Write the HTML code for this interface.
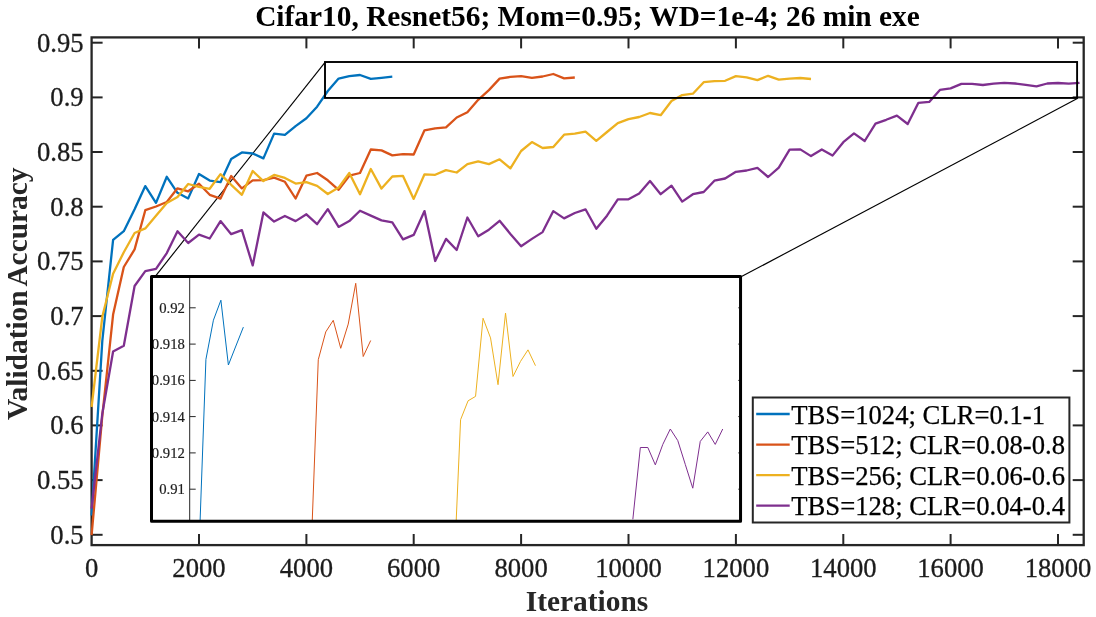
<!DOCTYPE html>
<html><head><meta charset="utf-8"><title>Cifar10 Resnet56 validation accuracy</title>
<style>
html,body{margin:0;padding:0;background:#fff;}
body{width:1096px;height:617px;overflow:hidden;position:relative;}
svg text{font-family:"Liberation Serif",serif;}
</style></head><body>
<svg width="1096" height="617" viewBox="0 0 1096 617" style="position:absolute;left:0;top:0">
<rect x="0" y="0" width="1096" height="617" fill="#fff"/>
<rect x="91.6" y="37.4" width="992.1" height="507.7" fill="none" stroke="#262626" stroke-width="2.3"/>
<g stroke="#262626" stroke-width="2">
<line x1="199.0" y1="545.0" x2="199.0" y2="534.0"/>
<line x1="199.0" y1="37.4" x2="199.0" y2="48.4"/>
<line x1="306.4" y1="545.0" x2="306.4" y2="534.0"/>
<line x1="306.4" y1="37.4" x2="306.4" y2="48.4"/>
<line x1="413.7" y1="545.0" x2="413.7" y2="534.0"/>
<line x1="413.7" y1="37.4" x2="413.7" y2="48.4"/>
<line x1="521.1" y1="545.0" x2="521.1" y2="534.0"/>
<line x1="521.1" y1="37.4" x2="521.1" y2="48.4"/>
<line x1="628.5" y1="545.0" x2="628.5" y2="534.0"/>
<line x1="628.5" y1="37.4" x2="628.5" y2="48.4"/>
<line x1="735.9" y1="545.0" x2="735.9" y2="534.0"/>
<line x1="735.9" y1="37.4" x2="735.9" y2="48.4"/>
<line x1="843.3" y1="545.0" x2="843.3" y2="534.0"/>
<line x1="843.3" y1="37.4" x2="843.3" y2="48.4"/>
<line x1="950.6" y1="545.0" x2="950.6" y2="534.0"/>
<line x1="950.6" y1="37.4" x2="950.6" y2="48.4"/>
<line x1="1058.0" y1="545.0" x2="1058.0" y2="534.0"/>
<line x1="1058.0" y1="37.4" x2="1058.0" y2="48.4"/>
<line x1="91.6" y1="534.8" x2="102.6" y2="534.8"/>
<line x1="1083.7" y1="534.8" x2="1072.7" y2="534.8"/>
<line x1="91.6" y1="480.1" x2="102.6" y2="480.1"/>
<line x1="1083.7" y1="480.1" x2="1072.7" y2="480.1"/>
<line x1="91.6" y1="425.4" x2="102.6" y2="425.4"/>
<line x1="1083.7" y1="425.4" x2="1072.7" y2="425.4"/>
<line x1="91.6" y1="370.8" x2="102.6" y2="370.8"/>
<line x1="1083.7" y1="370.8" x2="1072.7" y2="370.8"/>
<line x1="91.6" y1="316.1" x2="102.6" y2="316.1"/>
<line x1="1083.7" y1="316.1" x2="1072.7" y2="316.1"/>
<line x1="91.6" y1="261.4" x2="102.6" y2="261.4"/>
<line x1="1083.7" y1="261.4" x2="1072.7" y2="261.4"/>
<line x1="91.6" y1="206.7" x2="102.6" y2="206.7"/>
<line x1="1083.7" y1="206.7" x2="1072.7" y2="206.7"/>
<line x1="91.6" y1="152.0" x2="102.6" y2="152.0"/>
<line x1="1083.7" y1="152.0" x2="1072.7" y2="152.0"/>
<line x1="91.6" y1="97.4" x2="102.6" y2="97.4"/>
<line x1="1083.7" y1="97.4" x2="1072.7" y2="97.4"/>
<line x1="91.6" y1="42.7" x2="102.6" y2="42.7"/>
<line x1="1083.7" y1="42.7" x2="1072.7" y2="42.7"/>
</g>
<g stroke="#000" stroke-width="1.15" fill="none">
<line x1="325" y1="62.4" x2="154.3" y2="277.6"/>
<line x1="1077.3" y1="98.6" x2="741.5" y2="276.6"/>
</g>
<polyline points="91.6,515.5 102.3,341.0 113.1,239.9 123.8,231.2 134.6,209.3 145.3,186.1 156.0,202.9 166.8,176.8 177.5,192.8 188.2,198.4 199.0,174.0 209.7,180.6 220.5,182.2 231.2,158.9 241.9,152.4 252.7,153.5 263.4,158.4 274.1,133.6 284.9,134.9 295.6,126.1 306.4,118.3 317.1,106.7 327.8,91.0 338.6,78.6 349.3,76.2 360.0,75.0 370.8,78.9 381.5,77.8 392.3,76.7" fill="none" stroke="#0072BD" stroke-width="2.3" stroke-linejoin="round"/>
<polyline points="91.6,535.1 102.3,416.0 113.1,314.6 123.8,267.0 134.6,249.4 145.3,210.2 156.0,206.5 166.8,202.0 177.5,188.3 188.2,191.3 199.0,183.8 209.7,194.8 220.5,198.6 231.2,176.0 241.9,188.4 252.7,180.4 263.4,180.2 274.1,177.6 284.9,181.8 295.6,198.5 306.4,175.7 317.1,173.0 327.8,180.3 338.6,189.8 349.3,175.7 360.0,173.0 370.8,149.5 381.5,150.4 392.3,155.4 403.0,154.1 413.7,154.5 424.5,130.3 435.2,128.4 446.0,127.4 456.7,117.5 467.4,112.2 478.2,99.8 488.9,90.1 499.6,78.6 510.4,76.9 521.1,76.2 531.9,77.9 542.6,76.5 553.3,74.0 564.1,78.4 574.8,77.5" fill="none" stroke="#D95319" stroke-width="2.3" stroke-linejoin="round"/>
<polyline points="91.6,407.0 102.3,316.8 113.1,273.7 123.8,252.2 134.6,233.0 145.3,228.4 156.0,215.7 166.8,202.9 177.5,197.0 188.2,184.0 199.0,186.8 209.7,188.8 220.5,174.1 231.2,184.8 241.9,194.8 252.7,171.0 263.4,181.1 274.1,174.9 284.9,177.9 295.6,183.6 306.4,182.1 317.1,185.8 327.8,194.0 338.6,187.6 349.3,173.0 360.0,194.3 370.8,169.0 381.5,188.6 392.3,176.5 403.0,175.9 413.7,198.9 424.5,174.3 435.2,174.8 446.0,170.1 456.7,172.5 467.4,164.2 478.2,161.3 488.9,164.1 499.6,159.3 510.4,168.4 521.1,151.0 531.9,142.1 542.6,148.0 553.3,147.0 564.1,134.7 574.8,133.7 585.5,131.6 596.3,140.8 607.0,132.0 617.8,123.1 628.5,119.2 639.2,117.0 650.0,113.0 660.7,115.2 671.5,101.0 682.2,95.1 692.9,93.7 703.7,82.2 714.4,81.1 725.1,80.8 735.9,76.1 746.6,77.3 757.4,80.1 768.1,75.8 778.8,79.6 789.6,78.7 800.3,78.0 811.0,79.0" fill="none" stroke="#EDB120" stroke-width="2.3" stroke-linejoin="round"/>
<polyline points="91.6,508.7 102.3,413.7 113.1,351.5 123.8,345.8 134.6,286.0 145.3,271.2 156.0,268.9 166.8,253.1 177.5,231.2 188.2,243.0 199.0,234.7 209.7,238.5 220.5,221.1 231.2,234.2 241.9,230.2 252.7,265.4 263.4,212.5 274.1,221.6 284.9,216.0 295.6,221.1 306.4,214.3 317.1,224.2 327.8,209.2 338.6,226.9 349.3,221.1 360.0,210.7 370.8,215.6 381.5,220.4 392.3,222.4 403.0,239.4 413.7,234.9 424.5,211.1 435.2,261.0 446.0,238.9 456.7,250.0 467.4,217.5 478.2,236.3 488.9,229.7 499.6,220.8 510.4,233.9 521.1,246.2 531.9,238.9 542.6,232.1 553.3,211.1 564.1,218.4 574.8,213.0 585.5,209.3 596.3,228.8 607.0,215.7 617.8,199.3 628.5,199.3 639.2,193.4 650.0,181.0 660.7,194.2 671.5,185.6 682.2,201.6 692.9,194.2 703.7,192.0 714.4,180.7 725.1,178.5 735.9,171.8 746.6,170.5 757.4,167.9 768.1,177.0 778.8,167.7 789.6,149.6 800.3,149.4 811.0,156.1 821.8,149.4 832.5,155.6 843.3,142.2 854.0,133.4 864.7,141.0 875.5,123.7 886.2,119.8 896.9,115.6 907.7,124.0 918.4,102.8 929.2,101.9 939.9,89.9 950.6,88.4 961.4,83.9 972.1,83.9 982.9,85.0 993.6,83.7 1004.3,82.8 1015.1,83.5 1025.8,84.9 1036.5,86.4 1047.3,83.5 1058.0,83.0 1068.8,83.7 1079.5,82.8" fill="none" stroke="#7E2F8E" stroke-width="2.3" stroke-linejoin="round"/>
<rect x="325.0" y="62.0" width="752.1" height="35.95" fill="none" stroke="#000" stroke-width="1.9"/>
<rect x="151.5" y="276.5" width="589.05" height="244.8" fill="#fff"/>
<clipPath id="ic"><rect x="153" y="278" width="586.2" height="242"/></clipPath>
<g clip-path="url(#ic)">
<line x1="189.7" y1="276" x2="189.7" y2="522" stroke="#262626" stroke-width="1"/>
<line x1="189.7" y1="307.8" x2="195.7" y2="307.8" stroke="#262626" stroke-width="1"/>
<line x1="738.3" y1="307.8" x2="739.5" y2="307.8" stroke="#262626" stroke-width="1"/>
<text x="184.8" y="312.8" text-anchor="end" font-size="14.67" fill="#1c1c1c" stroke="#1c1c1c" stroke-width="0.2">0.92</text>
<line x1="189.7" y1="344.1" x2="195.7" y2="344.1" stroke="#262626" stroke-width="1"/>
<line x1="738.3" y1="344.1" x2="739.5" y2="344.1" stroke="#262626" stroke-width="1"/>
<text x="184.8" y="349.1" text-anchor="end" font-size="14.67" fill="#1c1c1c" stroke="#1c1c1c" stroke-width="0.2">0.918</text>
<line x1="189.7" y1="380.4" x2="195.7" y2="380.4" stroke="#262626" stroke-width="1"/>
<line x1="738.3" y1="380.4" x2="739.5" y2="380.4" stroke="#262626" stroke-width="1"/>
<text x="184.8" y="385.4" text-anchor="end" font-size="14.67" fill="#1c1c1c" stroke="#1c1c1c" stroke-width="0.2">0.916</text>
<line x1="189.7" y1="416.6" x2="195.7" y2="416.6" stroke="#262626" stroke-width="1"/>
<line x1="738.3" y1="416.6" x2="739.5" y2="416.6" stroke="#262626" stroke-width="1"/>
<text x="184.8" y="421.6" text-anchor="end" font-size="14.67" fill="#1c1c1c" stroke="#1c1c1c" stroke-width="0.2">0.914</text>
<line x1="189.7" y1="452.9" x2="195.7" y2="452.9" stroke="#262626" stroke-width="1"/>
<line x1="738.3" y1="452.9" x2="739.5" y2="452.9" stroke="#262626" stroke-width="1"/>
<text x="184.8" y="457.9" text-anchor="end" font-size="14.67" fill="#1c1c1c" stroke="#1c1c1c" stroke-width="0.2">0.912</text>
<line x1="189.7" y1="489.2" x2="195.7" y2="489.2" stroke="#262626" stroke-width="1"/>
<line x1="738.3" y1="489.2" x2="739.5" y2="489.2" stroke="#262626" stroke-width="1"/>
<text x="184.8" y="494.2" text-anchor="end" font-size="14.67" fill="#1c1c1c" stroke="#1c1c1c" stroke-width="0.2">0.91</text>
<polyline points="198.43,567.00 205.92,359.40 213.41,320.20 220.90,300.20 228.39,365.00 235.88,346.00 243.37,327.10" fill="none" stroke="#0072BD" stroke-width="1.0" stroke-linejoin="miter"/>
<polyline points="310.78,560.00 318.27,359.70 325.76,331.90 333.25,320.30 340.74,348.30 348.23,324.10 355.72,283.30 363.21,356.50 370.70,340.50" fill="none" stroke="#D95319" stroke-width="1.0" stroke-linejoin="miter"/>
<polyline points="453.09,592.00 460.58,419.70 468.07,400.80 475.56,396.40 483.05,318.25 490.54,337.90 498.03,384.70 505.52,313.05 513.01,376.50 520.50,361.40 527.99,349.85 535.48,365.70" fill="none" stroke="#EDB120" stroke-width="1.0" stroke-linejoin="miter"/>
<polyline points="632.85,519.30 640.34,447.50 647.83,447.50 655.32,464.85 662.81,444.40 670.30,429.00 677.79,440.60 685.28,464.40 692.77,488.20 700.26,441.40 707.75,431.90 715.24,444.40 722.73,429.00" fill="none" stroke="#7E2F8E" stroke-width="1.0" stroke-linejoin="miter"/>
</g>
<rect x="151.5" y="276.5" width="589.05" height="244.8" fill="none" stroke="#000" stroke-width="3" stroke-linejoin="round"/>
<g font-size="26.67" fill="#1c1c1c" stroke="#1c1c1c" stroke-width="0.3">
<text x="91.6" y="576.6" text-anchor="middle">0</text>
<text x="199.0" y="576.6" text-anchor="middle">2000</text>
<text x="306.4" y="576.6" text-anchor="middle">4000</text>
<text x="413.7" y="576.6" text-anchor="middle">6000</text>
<text x="521.1" y="576.6" text-anchor="middle">8000</text>
<text x="628.5" y="576.6" text-anchor="middle">10000</text>
<text x="735.9" y="576.6" text-anchor="middle">12000</text>
<text x="843.3" y="576.6" text-anchor="middle">14000</text>
<text x="950.6" y="576.6" text-anchor="middle">16000</text>
<text x="1058.0" y="576.6" text-anchor="middle">18000</text>
<text x="83.7" y="543.7" text-anchor="end">0.5</text>
<text x="83.7" y="489.0" text-anchor="end">0.55</text>
<text x="83.7" y="434.3" text-anchor="end">0.6</text>
<text x="83.7" y="379.7" text-anchor="end">0.65</text>
<text x="83.7" y="325.0" text-anchor="end">0.7</text>
<text x="83.7" y="270.3" text-anchor="end">0.75</text>
<text x="83.7" y="215.6" text-anchor="end">0.8</text>
<text x="83.7" y="160.9" text-anchor="end">0.85</text>
<text x="83.7" y="106.3" text-anchor="end">0.9</text>
<text x="83.7" y="51.6" text-anchor="end">0.95</text>
</g>
<g font-size="29.4" font-weight="bold" fill="#262626" text-anchor="middle">
<text x="587.5" y="25.8" fill="#000">Cifar10, Resnet56; Mom=0.95; WD=1e-4; 26 min exe</text>
<text x="587.0" y="611">Iterations</text>
<text transform="translate(27.1,293.7) rotate(-90)" style="word-spacing:-2px">Validation Accuracy</text>
</g>
<rect x="752.8" y="397.5" width="316.6" height="125" fill="#fff" stroke="#262626" stroke-width="2"/>
<line x1="756.2" y1="414.00" x2="789.7" y2="414.00" stroke="#0072BD" stroke-width="2.3"/>
<text x="791.3" y="423.90" font-size="26.67" fill="#000" stroke="#000" stroke-width="0.25">TBS=1024; CLR=0.1-1</text>
<line x1="756.2" y1="444.55" x2="789.7" y2="444.55" stroke="#D95319" stroke-width="2.3"/>
<text x="791.3" y="454.35" font-size="26.67" fill="#000" stroke="#000" stroke-width="0.25">TBS=512; CLR=0.08-0.8</text>
<line x1="756.2" y1="475.10" x2="789.7" y2="475.10" stroke="#EDB120" stroke-width="2.3"/>
<text x="791.3" y="484.80" font-size="26.67" fill="#000" stroke="#000" stroke-width="0.25">TBS=256; CLR=0.06-0.6</text>
<line x1="756.2" y1="505.65" x2="789.7" y2="505.65" stroke="#7E2F8E" stroke-width="2.3"/>
<text x="791.3" y="515.25" font-size="26.67" fill="#000" stroke="#000" stroke-width="0.25">TBS=128; CLR=0.04-0.4</text>
</svg>
</body></html>
